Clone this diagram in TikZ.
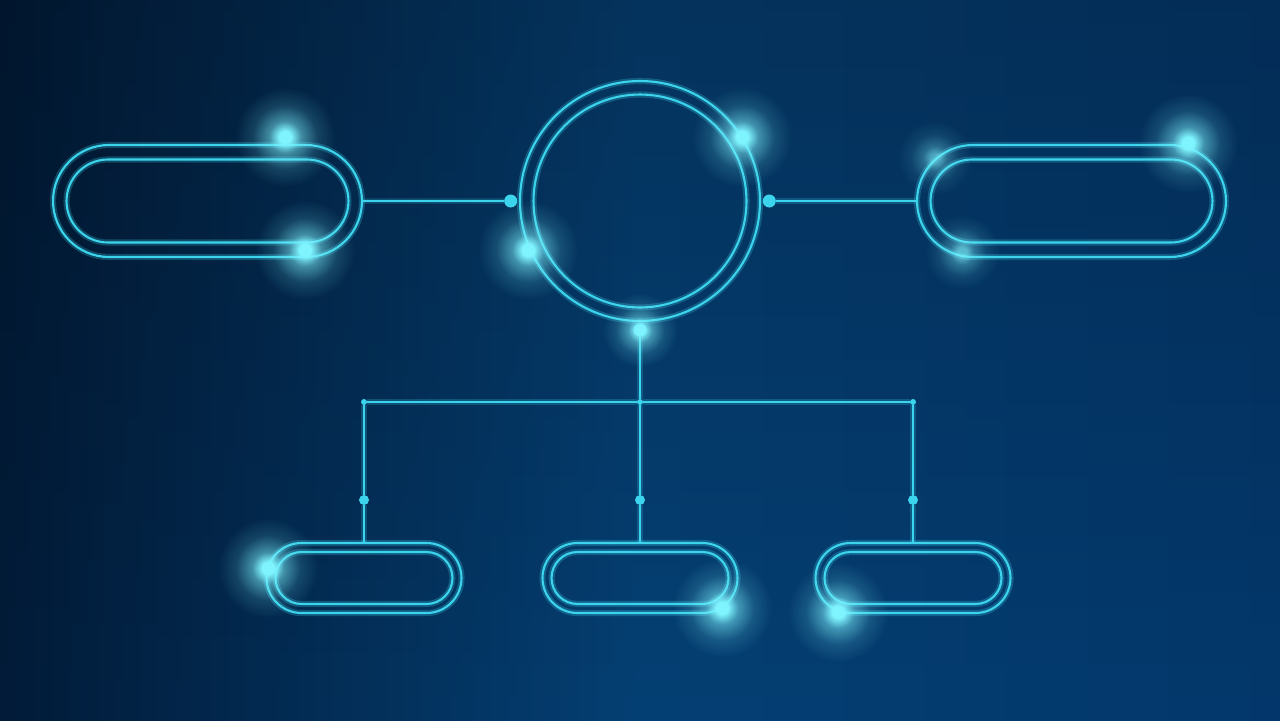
\documentclass[tikz,border=0pt]{standalone}
\usetikzlibrary{positioning, shapes.misc, fadings}
\definecolor{bgl}{HTML}{021B38}
\definecolor{bgm}{HTML}{054074}
\definecolor{bgr}{HTML}{04386C}
\definecolor{neonc}{HTML}{3CD4EC}
\definecolor{glowc}{HTML}{7FF4FF}
\pgfdeclareradialshading{glowshade}{\pgfpointorigin}{%
	color(0bp)=(white); color(3bp)=(white); color(8bp)=(black!50!white);
	color(16bp)=(black!85!white); color(25bp)=(black); color(50bp)=(black)}
\pgfdeclarefading{glowfade}{\pgfuseshading{glowshade}}
\tikzfading[name=topdark, top color=transparent!80, bottom color=transparent!100]
\tikzset{
	neon/.style ={
		draw=neonc,
		line width=1.2pt,
		preaction={draw=neonc, line width=3.5pt, opacity=0.25}
	},
	pill/.append style={
		rounded rectangle,
		neon,
		inner sep=0pt,
		outer sep=0pt,
	},
	ring/.append style={
		circle,
		neon,
		inner sep=0pt,
		outer sep=0pt,
	},
	dot/.append style={
		circle,
		fill=neonc,
		inner sep=0pt,
		minimum size=2.6mm,
	},
	tinydot/.append style={
		dot,
		minimum size=1.2mm,
	},
	middot/.append style={
		dot,
		minimum size=2mm,
	},
	glow/.append style={
		circle,
		fill=glowc,
		path fading=glowfade,
		inner sep=0pt,
		minimum size=20mm,
	},
	wire/.append style={
		draw=neonc,
		line width=1pt,
		preaction={draw=neonc, line width=3pt, opacity=0.22}
	}
}
\begin{document}
\begin{tikzpicture}[x=0.02cm, y=-0.02cm]
\useasboundingbox (0,0) rectangle (1280,720);

% background
\shade[left color=bgl, right color=bgr, middle color=bgm] (-10,-10) rectangle (1290,730);
\fill[black, path fading=topdark] (-10,-10) rectangle (1290,730);

% centre hub and the two side boxes
\node(hub)[ring, minimum size=48mm] at (640,201) {};
\node(hubin)[ring, minimum size=42.6mm] at (hub) {};

\node(left)[pill, minimum width=61.8mm, minimum height=22.4mm] at (207.5,201) {};
\node(leftin)[pill, minimum width=56.4mm, minimum height=16.6mm] at (left) {};
\node(right)[pill, minimum width=61.8mm, minimum height=22.4mm] at (1071.5,201) {};
\node(rightin)[pill, minimum width=56.4mm, minimum height=16.6mm] at (right) {};

\node(dl)[dot, left=0.5mm of hub] {};
\node(dr)[dot, right=0.5mm of hub] {};
\node(db)[dot, below=0.4mm of hub] {};

% branch
\node(j1)[tinydot] at (364,402) {};
\node(j2)[tinydot] at (640,402) {};
\node(j3)[tinydot] at (913,402) {};
\node(m1)[middot] at (364,500) {};
\node(m2)[middot] at (640,500) {};
\node(m3)[middot] at (913,500) {};

\node(kid1)[pill, minimum width=39mm, minimum height=14mm] at (364,578) {};
\node(kid1in)[pill, minimum width=35.4mm, minimum height=10.4mm] at (kid1) {};
\node(kid2)[pill, minimum width=39mm, minimum height=14mm] at (640,578) {};
\node(kid2in)[pill, minimum width=35.4mm, minimum height=10.4mm] at (kid2) {};
\node(kid3)[pill, minimum width=39mm, minimum height=14mm] at (913,578) {};
\node(kid3in)[pill, minimum width=35.4mm, minimum height=10.4mm] at (kid3) {};

\draw[wire] (left) -- (dl);
\draw[wire] (dr) -- (right);
\draw[wire] (db) -- (j2);
\draw[wire] (j1) -- (j2) -- (j3);
\draw[wire] (j1) -- (m1) -- (kid1);
\draw[wire] (j2) -- (m2) -- (kid2);
\draw[wire] (j3) -- (m3) -- (kid3);

% glints
\node(g1)[glow] at (285,137) {};
\node(g2)[glow] at (305,250) {};
\node(g3)[glow] at (528,250) {};
\node(g4)[glow] at (742,137) {};
\node(g5)[glow] at (1188,143) {};
\node(g6)[glow, minimum size=15mm, opacity=0.7] at (962,252) {};
\node(g7)[glow, minimum size=15mm, opacity=0.6] at (935,158) {};
\node(g8)[glow, minimum size=15mm] at (640,330) {};
\node(g9)[glow] at (268,568) {};
\node(g10)[glow] at (722,608) {};
\node(g11)[glow] at (838,612) {};

\end{tikzpicture}
\end{document}
